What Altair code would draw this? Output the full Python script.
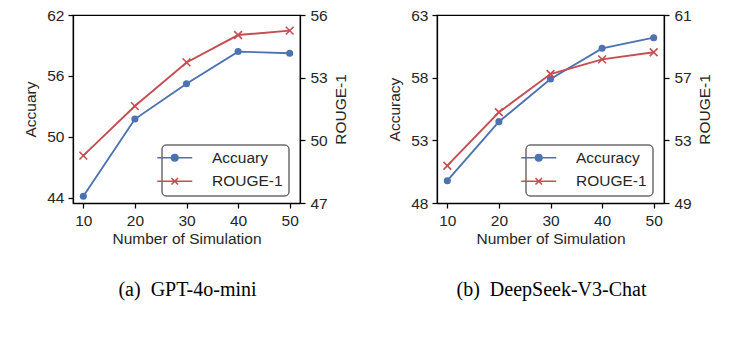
import altair as alt
import pandas as pd

sims = [10, 20, 30, 40, 50]
acc_a = [44.17, 51.76, 55.23, 58.40, 58.24]
rouge_a = [49.27, 51.64, 53.73, 55.04, 55.25]
acc_b = [49.78, 54.49, 57.89, 60.34, 61.19]
rouge_b = [51.38, 54.79, 57.23, 58.17, 58.62]

ticks_acc_a = [44, 50, 56, 62]
ticks_rouge_a = [47, 50, 53, 56]
ticks_acc_b = [48, 53, 58, 63]
ticks_rouge_b = [49, 53, 57, 61]

BLUE = "#4C72B0"
RED = "#C44E52"
INK = "#262626"
FONT = "Liberation Sans"
FS = 15.5

CROSS = "M-1,-1L1,1M-1,1L1,-1"
LEG_CIRCLE = "M-4.375,0L4.375,0M-0.8,0A0.8,0.8,0,1,1,0.8,0A0.8,0.8,0,1,1,-0.8,0Z"
LEG_CROSS = "M-4.375,0L4.375,0M-0.82,-0.82L0.82,0.82M-0.82,0.82L0.82,-0.82"

W, H = 227, 188


def panel(acc, rouge, acc_label, acc_dom, acc_ticks, rouge_dom, rouge_ticks, caption, cap_dx):
    df_acc = pd.DataFrame({"sim": sims, "val": acc})
    df_rouge = pd.DataFrame({"sim": sims, "val": rouge})
    df_leg = pd.DataFrame({"series": [acc_label, "ROUGE-1"]})

    x_axis = alt.Axis(values=sims, title="Number of Simulation", labelPadding=5, titlePadding=3)
    x = alt.X("sim:Q", scale=alt.Scale(domain=[8, 52], nice=False, zero=False), axis=x_axis)

    y_acc = alt.Y("val:Q", scale=alt.Scale(domain=acc_dom, nice=False, zero=False),
                  axis=alt.Axis(values=acc_ticks, title=acc_label, orient="left",
                                labelPadding=4, titlePadding=8.5, titleAngle=270,
                                titleBaseline="bottom"))
    y_rouge = alt.Y("val:Q", scale=alt.Scale(domain=rouge_dom, nice=False, zero=False),
                    axis=alt.Axis(values=rouge_ticks, title="ROUGE-1", orient="right",
                                  labelPadding=5, titlePadding=6, titleAngle=270,
                                  titleBaseline="top"))

    acc_base = alt.Chart(df_acc).encode(x=x, y=y_acc)
    acc_layer = alt.layer(
        acc_base.mark_line(color=BLUE, strokeWidth=1.9),
        acc_base.mark_circle(color=BLUE, size=50, opacity=1),
    )
    rouge_base = alt.Chart(df_rouge).encode(x=x, y=y_rouge)
    rouge_layer = alt.layer(
        rouge_base.mark_line(color=RED, strokeWidth=1.9),
        rouge_base.mark_point(shape=CROSS, color=RED, size=60, strokeWidth=1.6,
                              filled=False, opacity=1),
    )

    dom = [acc_label, "ROUGE-1"]
    leg = alt.Legend(title=None, orient="none", legendX=88.5, legendY=129.5, padding=5.5,
                     rowPadding=6.5, labelOffset=29.5, symbolSize=64,
                     symbolStrokeWidth=1.6, strokeColor="#222222", cornerRadius=4,
                     fillColor="white", labelFont=FONT, labelFontSize=FS,
                     labelColor=INK, symbolOpacity=1)
    legend_layer = alt.Chart(df_leg).transform_filter("false").mark_point(
        filled=True, opacity=1, size=64
    ).encode(
        fill=alt.Fill("series:N", scale=alt.Scale(domain=dom, range=[BLUE, RED]), legend=leg),
        stroke=alt.Stroke("series:N", scale=alt.Scale(domain=dom, range=[BLUE, RED]), legend=leg),
        shape=alt.Shape("series:N", scale=alt.Scale(domain=dom, range=[LEG_CIRCLE, LEG_CROSS]), legend=leg),
    )

    return alt.layer(acc_layer, rouge_layer, legend_layer).resolve_scale(
        y="independent"
    ).properties(
        width=W, height=H,
        title=alt.TitleParams(caption, orient="bottom", anchor="middle", frame="group",
                              font="Liberation Serif", fontSize=20, fontWeight="normal",
                              color="black", offset=33, dx=cap_dx),
    )


pa = panel(acc_a, rouge_a, "Accuary", [43.5, 62], ticks_acc_a, [47, 56], ticks_rouge_a,
           "(a)\u2002GPT-4o-mini", 1)
pb = panel(acc_b, rouge_b, "Accuracy", [48, 63], ticks_acc_b, [49, 61], ticks_rouge_b,
           "(b)\u2002DeepSeek-V3-Chat", 1)

chart = alt.hconcat(pa, pb, spacing=137, bounds="flush").resolve_scale(
    fill="independent", stroke="independent", shape="independent",
    x="independent", y="independent",
).resolve_legend(
    fill="independent", stroke="independent", shape="independent",
).properties(
    padding={"left": 22, "top": 7, "right": 0, "bottom": 0},
    background="white",
).configure_view(
    stroke="black", strokeWidth=1.25
).configure_axis(
    domainColor="black", domainWidth=1.25, tickColor="black", tickWidth=1.25,
    tickSize=5, grid=False, labelFont=FONT, labelFontSize=FS, labelColor=INK,
    titleFont=FONT, titleFontSize=FS, titleColor=INK, titleFontWeight="normal",
)

chart.save("out.html", embed_options={"renderer": "svg", "actions": False})
